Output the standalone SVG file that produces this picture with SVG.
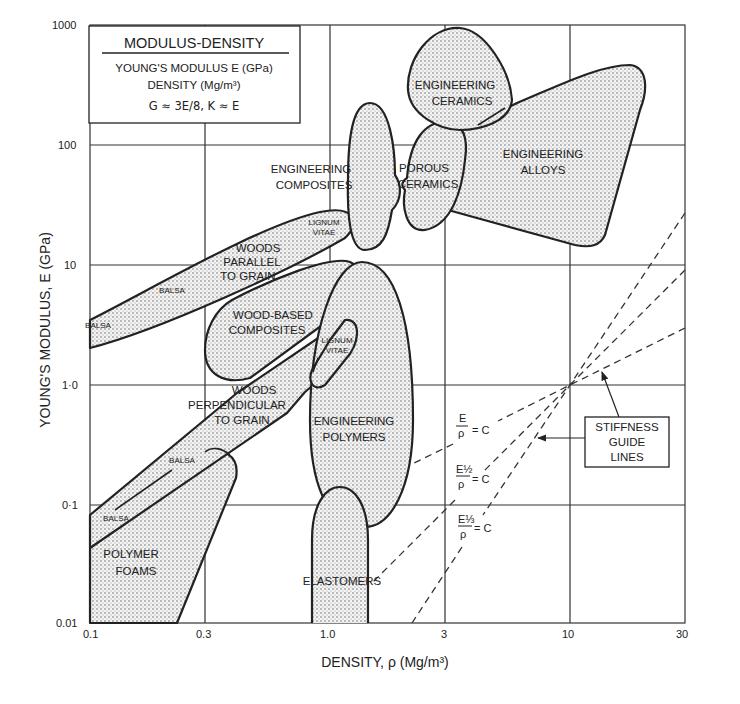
<svg xmlns="http://www.w3.org/2000/svg" width="740" height="704" viewBox="0 0 740 704">
<style>
text{font-family:"Liberation Sans",Arial,sans-serif;fill:#222}
.reg{fill:url(#dots);stroke:#222;stroke-width:2.2;stroke-linejoin:round}
.grid{stroke:#333;stroke-width:1.2;fill:none}
.gd{stroke:#333;stroke-width:1.3;stroke-dasharray:7 5;fill:none}
.lab{font-size:11.5px;text-anchor:middle}
.sm{font-size:8px;text-anchor:middle}
.tk{font-size:11px}
</style>
<defs>
<pattern id="dots" width="4" height="4" patternUnits="userSpaceOnUse">
<rect width="4" height="4" fill="#f4f4f4"/>
<circle cx="1" cy="1" r="0.7" fill="#555"/>
<circle cx="3" cy="3" r="0.5" fill="#888"/>
</pattern>
<marker id="ah" markerWidth="8" markerHeight="6" refX="7" refY="3" orient="auto"><path d="M0,0 L8,3 L0,6 Z" fill="#222"/></marker>
</defs>
<rect width="740" height="704" fill="#fff"/>
<g id="grid">
<rect x="90" y="25" width="595" height="598" class="grid" stroke-width="1.5"/>
<path class="grid" d="M90,145H685M90,265H685M90,385H685M90,505H685M205,25V623M330,25V623M445,25V623M570,25V623"/>
</g>
<g id="ticks" class="tk">
<text x="52" y="29">1000</text><text x="58" y="149">100</text><text x="64" y="269">10</text><text x="62" y="389">1·0</text><text x="62" y="509">0·1</text><text x="56" y="627">0.01</text>
<text x="83" y="638">0.1</text><text x="196" y="638">0.3</text><text x="320" y="638">1.0</text><text x="441" y="638">3</text><text x="562" y="638">10</text><text x="676" y="638">30</text>
</g>
<text x="385" y="667" font-size="14" text-anchor="middle">DENSITY, ρ  (Mg/m³)</text>
<text transform="translate(50,330) rotate(-90)" font-size="14" text-anchor="middle">YOUNG'S MODULUS, E (GPa)</text>
<g id="legend">
<rect x="89" y="26" width="211" height="97" fill="#fff" stroke="#222" stroke-width="1.3"/>
<text x="194" y="48" font-size="14.5" text-anchor="middle">MODULUS-DENSITY</text>
<line x1="102" y1="53" x2="289" y2="53" stroke="#222" stroke-width="1.5"/>
<text x="194" y="72" font-size="11.5" text-anchor="middle">YOUNG'S MODULUS E (GPa)</text>
<text x="194" y="89" font-size="11.5" text-anchor="middle">DENSITY (Mg/m³)</text>
<text x="194" y="110" font-size="11.5" text-anchor="middle" style="font-family:'DejaVu Sans',sans-serif">G ≈ 3E/8,   K ≈ E</text>
</g>
<g id="guide-lines">
<path class="gd" d="M685,328 L570,385 L498,421 M453,444 L410,465"/>
<path class="gd" d="M685,270 L570,385 L483,472 M455,500 L372,583"/>
<path class="gd" d="M685,213 L570,385 L483,515 M462,547 L412,623"/>
</g>
<g id="polymer-foams"><path class="reg" d="M90,548 L200,455 C222,445 240,455 236,478 L177,623 L90,623 Z"/><text class="lab" x="131" y="558">POLYMER</text><text class="lab" x="136" y="575">FOAMS</text></g>
<g id="woods-perpendicular"><path class="reg" d="M90,515 L237,393 L330,330 C350,318 365,325 355,340 C340,360 320,380 305,392 L287,413 L90,548 Z"/>
<path d="M115,510 L172,470" stroke="#222" stroke-width="1.6"/><path d="M205,452 C212,446 222,448 230,455" stroke="#222" stroke-width="1.6" fill="none"/>
<text class="sm" x="182" y="463">BALSA</text><text class="sm" x="116" y="521">BALSA</text>
<text class="lab" x="254" y="394">WOODS</text><text class="lab" x="237" y="409">PERPENDICULAR</text><text class="lab" x="242" y="424">TO GRAIN</text></g>
<g id="wood-based-composites"><path class="reg" d="M232,300 C270,280 330,255 350,262 C368,270 360,300 340,312 L250,378 C225,385 205,375 205,350 C205,330 215,310 232,300 Z"/><text class="lab" x="273" y="319">WOOD-BASED</text><text class="lab" x="267" y="334">COMPOSITES</text></g>
<g id="engineering-polymers"><path class="reg" d="M362,262 C395,262 413,320 413,420 C413,490 390,527 365,527 C325,527 310,480 310,420 C310,330 335,262 362,262 Z"/><text class="lab" x="354" y="425">ENGINEERING</text><text class="lab" x="354" y="441">POLYMERS</text></g>
<g id="lignum-vitae-perp"><path class="reg" d="M345,320 C362,318 360,345 345,360 L325,385 C312,393 308,380 312,370 L330,340 Z"/><text class="sm" x="337" y="343">LIGNUM</text><text class="sm" x="337" y="353">VITAE</text><path d="M318,358 L313,372" stroke="#222" stroke-width="1.5"/></g>
<g id="elastomers"><path class="reg" d="M312,623 L312,540 C312,505 325,487 340,487 C355,487 368,505 368,540 L368,623"/><text class="lab" x="342" y="585">ELASTOMERS</text></g>
<g id="woods-parallel"><path class="reg" d="M90,320 C150,290 260,225 320,212 C355,205 362,222 345,238 C290,270 160,330 90,348 Z"/>
<text class="sm" x="98" y="328">BALSA</text><text class="sm" x="172" y="293">BALSA</text><text class="sm" x="324" y="225">LIGNUM</text><text class="sm" x="324" y="235">VITAE</text>
<text class="lab" x="258" y="252">WOODS</text><text class="lab" x="252" y="266">PARALLEL</text><text class="lab" x="248" y="280">TO GRAIN</text></g>
<g id="engineering-composites"><path class="reg" d="M370,103 C390,103 395,150 395,175 C402,185 402,200 392,210 C388,235 382,250 365,250 C350,250 347,215 348,180 C348,140 352,103 370,103 Z"/><text class="lab" x="311" y="173">ENGINEERING</text><text class="lab" x="314" y="189">COMPOSITES</text></g>
<g id="engineering-alloys"><path class="reg" d="M517,103 C560,85 600,65 630,65 C648,67 648,90 640,110 L605,235 C600,246 590,248 575,245 L448,210 L462,130 Z"/><text class="lab" x="543" y="158">ENGINEERING</text><text class="lab" x="543" y="174">ALLOYS</text></g>
<g id="porous-ceramics"><path class="reg" d="M445,122 C465,122 468,140 465,160 C462,190 452,225 425,230 C405,232 402,205 405,190 C400,185 403,180 407,178 C410,140 425,122 445,122 Z"/><text class="lab" x="424" y="172">POROUS</text><text class="lab" x="428" y="188">CERAMICS</text></g>
<g id="engineering-ceramics"><path class="reg" d="M460,28 C485,30 510,70 512,100 C510,122 480,130 460,130 C440,130 410,115 408,90 C406,60 430,26 460,28 Z"/><path d="M478,125 L505,108" stroke="#222" stroke-width="1.5"/><text class="lab" x="455" y="89">ENGINEERING</text><text class="lab" x="462" y="105">CERAMICS</text></g>
<g id="guide-labels" font-size="11">
<text x="459" y="422">E</text><line x1="456" y1="426" x2="468" y2="426" stroke="#222"/><text x="458" y="437">ρ</text><text x="472" y="434">= C</text>
<text x="456" y="473">E½</text><line x1="456" y1="476" x2="470" y2="476" stroke="#222"/><text x="458" y="488">ρ</text><text x="472" y="483">= C</text>
<text x="458" y="523">E⅓</text><line x1="458" y1="526" x2="472" y2="526" stroke="#222"/><text x="460" y="538">ρ</text><text x="474" y="532">= C</text>
</g>
<g id="stiffness-guide">
<rect x="585" y="417" width="84" height="50" fill="#fff" stroke="#222" stroke-width="1.3"/>
<text class="lab" x="627" y="431" font-size="11">STIFFNESS</text><text class="lab" x="627" y="446" font-size="11">GUIDE</text><text class="lab" x="627" y="461" font-size="11">LINES</text>
<line x1="585" y1="438" x2="538" y2="438" stroke="#222" stroke-width="1.2" marker-end="url(#ah)"/>
<line x1="619" y1="417" x2="602" y2="372" stroke="#222" stroke-width="1.2" marker-end="url(#ah)"/>
</g>
</svg>
